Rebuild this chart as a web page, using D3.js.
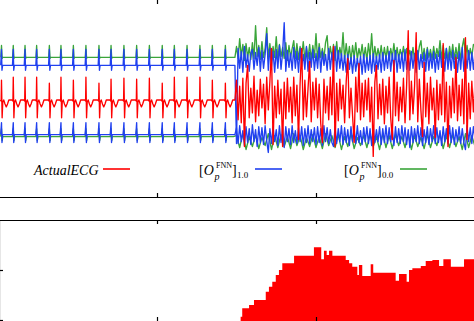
<!DOCTYPE html>
<html>
<head>
<meta charset="utf-8">
<script src="https://d3js.org/d3.v7.min.js"></script>
<style>
  body { margin: 0; background: #fff; }
  svg { display: block; }
  .axis path, .axis line { stroke: #000; stroke-width: 1.2; }
  .axis text { display: none; }
  .sig { fill: none; stroke-width: 1.35; stroke-linejoin: round; }
  .leg { font-family: "Liberation Serif", "DejaVu Serif", serif; fill: #000; }
</style>
</head>
<body>
<div id="chart"></div>
<script>
// heartbeat times (s) in the clean part of the record
var beatTimes = [0.22, 0.96, 1.70, 2.43, 3.23, 3.96, 4.74, 5.53, 6.35, 7.11, 7.92, 8.72, 9.52, 10.33, 11.09, 11.89, 12.70, 13.48, 14.30];
// R peak of the actual ECG, per beat
var redPeaks = [18, 21, 21, 21, 15, 21, 18, 21, 15, 19, 20, 19, 20, 15, 21, 21, 21, 18, 15];

// one beat of each trace: [offset from beat (s), value]; null = per-beat peak
var redShape = [[-0.08, -2], [-0.02, -3], [0, null], [0.04, -20], [0.08, -4], [0.14, -2], [0.22, -6], [0.30, -9], [0.38, -6], [0.46, -2]];
var blueUpShape = [[-0.05, 33], [0, 49], [0.03, 28], [0.07, 33]];
var greenUpShape = [[-0.04, 41], [0, 53], [0.04, 40], [0.08, 41]];
var blueLowShape = [[-0.05, -37], [0, -25], [0.03, -45], [0.07, -37]];
var greenLowShape = [[-0.05, -39], [0, -31], [0.04, -43], [0.08, -39]];

// noisy part: first entry is the baseline just before the onset,
// the rest are samples from 15 s on
var noiseStart = 15.0;
var redNoise = [-2,
  18, -22, 12, -25, 20, -49, 15, 33, -20, 10,
  -15, 22, -24, 8, -18, 19, -10, 14, -26, 21,
  -12, 17, 50, -47, 12, -20, 18, -16, 9, -49,
  16, -21, 20, -14, 11, -25, 21, -18, 13, -42,
  15, 50, -22, 18, -19, 10, 37, -24, 16, -12,
  20, -20, 14, -26, -45, 19, -15, 12, -22, 21,
  -17, 52, -49, 15, -23, 19, -11, 13, -25, 17,
  40, -20, 10, -18, -45, 21, -14, 35, -22, 15,
  -19, 18, -12, 20, -24, 11, -59, 16, 33, -21,
  14, -17, 19, -26, 12, -15, 21, -20, -42, 38,
  -18, 16, -23, 11, -14, 20, -25, 13, 68, -22,
  17, -16, 12, 66, -24, 19, -13, -39, 36, -19,
  15, -26, 21, -12, 10, -40, 18, -22, 14, -17,
  55, -24, 16, -49, 12, -20, 20, -15, 41, -23,
  13, -18, 19, -26, 61, -42, 15, -21, 17, -14, 18
];
var blueUpNoise = [33,
  -46, 50, 30, 47, 26, 52, 31, 44, 27, 45,
  49, 29, 46, 33, 51, 27, 48, 30, 44, 65,
  28, 50, 32, 47, 26, 49, 30, 53, 29, 46,
  76, 27, 48, 31, 45, 28, 51, 30, 47, 26,
  50, 32, 44, 29, 52, 27, 46, 31, 49, 28,
  45, 30, 51, 26, 47, 33, 44, 28, 50, 29,
  46, 31, 52, 27, 48, 30, 45, 28, 43, 26,
  44, 29, 41, 25, 43, 27, 40, 28, 42, 24,
  44, 26, 41, 28, 43, 25, 45, 27, 42, 29,
  44, 26, 46, 28, 43, 30, 47, 27, 45, 29,
  48, 26, 44, 30, 46, 27, 49, 29, 43, 28,
  47, 30, 45, 26, 48, 29, 44, 31, 46, 27,
  49, 28, 45, 30, 47, 26, 44, 29, 48, 31,
  45, 27, 50, 29, 46, 28, 48, 30, 44, 26,
  47, 29, 51, 27, 45, 30, 48, 28, 46, 29, 47
];
var greenUpNoise = [41,
  52, 40, 60, 42, 54, 38, 55, 41, 51, 39,
  56, 40, 73, 42, 53, 39, 57, 41, 50, 71,
  40, 55, 38, 52, 41, 62, 39, 54, 42, 51,
  40, 56, 38, 53, 41, 50, 58, 40, 55, 39,
  52, 42, 57, 38, 51, 40, 54, 39, 53, 41,
  65, 38, 55, 41, 50, 40, 56, 63, 39, 52,
  41, 54, 38, 57, 40, 51, 42, 66, 39, 55,
  40, 52, 38, 53, 41, 56, 39, 50, 42, 54,
  40, 51, 38, 55, 41, 65, 39, 52, 40, 50,
  41, 53, 39, 51, 40, 52, 38, 50, 41, 55,
  39, 51, 40, 49, 42, 52, 38, 50, 41, 48,
  40, 51, 39, 49, 41, 52, 58, 40, 50, 38,
  51, 41, 49, 39, 52, 40, 50, 42, 58, 39,
  53, 40, 50, 38, 52, 41, 54, 39, 51, 40,
  55, 38, 52, 60, 41, 53, 39, 50, 42, 54, 52
];
var blueLowNoise = [-37,
  -30, -46, -28, -44, -33, -48, -29, -45, -31, -47,
  -27, -44, -32, -49, -29, -45, -30, -47, -28, -43,
  -55, -31, -46, -29, -44, -32, -48, -28, -45, -30,
  -50, -29, -44, -31, -47, -28, -45, -33, -46, -30,
  -44, -29, -48, -31, -45, -28, -46, -32, -44, -30,
  -47, -29, -45, -31, -48, -28, -44, -30, -46, -32,
  -45, -49, -29, -46, -31, -44, -28, -47, -30, -45,
  -32, -48, -29, -44, -31, -46, -28, -45, -33, -47,
  -30, -44, -29, -46, -31, -48, -28, -45, -32, -44,
  -29, -47, -31, -45, -28, -46, -30, -44, -32, -48,
  -29, -45, -31, -46, -28, -44, -30, -47, -32, -50,
  -29, -45, -31, -44, -28, -46, -30, -48, -32, -45,
  -29, -47, -31, -44, -28, -46, -30, -45, -33, -48,
  -29, -44, -31, -46, -28, -45, -30, -47, -32, -44,
  -29, -46, -31, -45, -52, -28, -44, -30, -46, -29, -40
];
// sampled every 0.2 s
var greenLowNoise = [-39,
  -38, -50, -36, -52, -39, -49, -37, -51, -40, -48,
  -36, -52, -38, -50, -37, -49, -39, -51, -36, -48,
  -38, -52, -40, -49, -37, -50, -39, -51, -36, -48,
  -38, -50, -37, -52, -39, -49, -36, -51, -40, -48,
  -38, -50, -37, -49, -39, -52, -36, -50, -38, -51,
  -37, -48, -39, -50, -36, -52, -38, -49, -40, -51,
  -37, -50, -39, -48, -36, -51, -38, -50, -37, -49,
  -39, -52, -36, -50, -38, -49
];

// lower panel: step curve (start time of each step, value)
var stepTimes = [15.26, 15.36, 15.79, 16.10, 16.84, 17.04, 17.25, 17.47, 17.67, 17.88, 18.62, 19.87, 20.33, 20.50, 20.67, 20.82, 21.03, 21.87, 22.08, 22.28, 22.60, 22.70, 22.91, 23.44, 23.60, 25.01, 25.22, 25.70, 25.85, 26.06, 26.59, 26.90, 27.32, 27.74, 28.01, 28.48, 29.31, 30.1];
var stepValues = [3.3, 11.7, 15, 20, 28.3, 33.3, 38.3, 45, 50, 56.7, 64.3, 72.7, 60.7, 69.3, 65, 69.3, 64.3, 60, 56.7, 53.3, 45, 55, 44, 55.7, 47.3, 39.3, 46, 38.3, 50, 51.7, 54, 59, 60, 54, 60.7, 53.3, 60.7, 60.7];

var xTicks = [10, 20];

var red = "#ff0000", blue = "#2040f0", green = "#3aa53a";

var width = 474, height = 321;

var svg = d3.select("#chart").append("svg")
    .attr("width", width)
    .attr("height", height);

var x = d3.scaleLinear().domain([0, 30]).range([-2, 475]);
var yTop = d3.scaleLinear().domain([-100, 100]).range([197, -1]);
var yBot = d3.scaleLinear().domain([-5, 100]).range([325, 220]);

function buildSeries(shape, peaks, noise, step) {
  var pts = [];
  beatTimes.forEach(function(b, i) {
    shape.forEach(function(p) {
      pts.push([b + p[0], p[1] === null ? peaks[i] : p[1]]);
    });
  });
  noise.forEach(function(v, i) {
    pts.push([noiseStart + (i - 1) * step, v]);
  });
  return pts;
}

var line = d3.line()
    .x(function(d) { return x(d[0]); })
    .y(function(d) { return yTop(d[1]); });

var traces = [
  {data: buildSeries(greenLowShape, null, greenLowNoise, 0.2), color: green},
  {data: buildSeries(greenUpShape, null, greenUpNoise, 0.1), color: green},
  {data: buildSeries(blueLowShape, null, blueLowNoise, 0.1), color: blue},
  {data: buildSeries(blueUpShape, null, blueUpNoise, 0.1), color: blue},
  {data: buildSeries(redShape, redPeaks, redNoise, 0.1), color: red}
];

svg.selectAll("path.sig")
    .data(traces)
    .enter()
    .append("path")
    .attr("class", "sig")
    .attr("stroke", function(d) { return d.color; })
    .attr("d", function(d) { return line(d.data); });

// lower panel step area
var stepData = stepTimes.map(function(t, i) { return [t, stepValues[i]]; });
var area = d3.area()
    .curve(d3.curveStepAfter)
    .x(function(d) { return x(d[0]); })
    .y0(yBot(-5))
    .y1(function(d) { return yBot(d[1]); });

svg.append("path")
    .datum(stepData)
    .attr("fill", red)
    .attr("d", area);

// axes, tick labels fall outside the crop
svg.append("g")
    .attr("class", "axis")
    .attr("transform", "translate(0,-1)")
    .call(d3.axisTop(x).tickValues(xTicks).tickSize(-5).tickSizeOuter(0));

svg.append("g")
    .attr("class", "axis")
    .attr("transform", "translate(0,197)")
    .call(d3.axisBottom(x).tickValues(xTicks).tickSize(-4).tickSizeOuter(0));

svg.append("g")
    .attr("class", "axis")
    .attr("transform", "translate(0,220)")
    .call(d3.axisTop(x).tickValues(xTicks).tickSize(-4).tickSizeOuter(0));

svg.append("g")
    .attr("class", "axis")
    .attr("transform", "translate(0,325)")
    .call(d3.axisBottom(x).tickValues(xTicks).tickSize(-8).tickSizeOuter(0));

svg.append("g")
    .attr("class", "axis")
    .attr("transform", "translate(-1,0)")
    .call(d3.axisLeft(yBot).tickValues([0, 50]).tickSize(-4).tickSizeOuter(0));

// legend
var leg = svg.append("g").attr("class", "leg");

leg.append("text")
    .attr("x", 34).attr("y", 175)
    .style("font-size", "14px")
    .style("font-style", "italic")
    .text("ActualECG");
leg.append("line")
    .attr("x1", 103).attr("x2", 130).attr("y1", 169).attr("y2", 169)
    .attr("stroke", red).attr("stroke-width", 1.6);

function fnnLabel(x0, sub, color) {
  var g = leg.append("g").attr("transform", "translate(" + x0 + ",0)");
  var t = g.append("text").attr("y", 175).style("font-size", "14px");
  t.append("tspan").text("[");
  t.append("tspan").style("font-style", "italic").text("O");
  g.append("text").attr("x", 17).attr("y", 168).style("font-size", "8px").text("FNN");
  g.append("text").attr("x", 15.5).attr("y", 180).style("font-size", "10px").style("font-style", "italic").text("p");
  g.append("text").attr("x", 33).attr("y", 175).style("font-size", "14px").text("]");
  g.append("text").attr("x", 38).attr("y", 178).style("font-size", "9px").text(sub);
  g.append("line")
      .attr("x1", 56).attr("x2", 83).attr("y1", 169).attr("y2", 169)
      .attr("stroke", color).attr("stroke-width", 1.6);
}
fnnLabel(199, "1.0", blue);
fnnLabel(344, "0.0", green);
</script>
</body>
</html>
